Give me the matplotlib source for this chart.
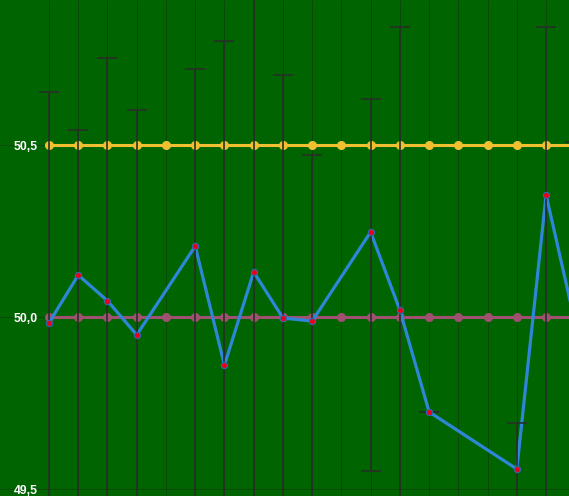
import matplotlib
matplotlib.use("Agg")
import matplotlib.pyplot as plt
import numpy as np

# series
idx = list(range(19))
upper_ref = [50.5] * 19
lower_ref = [50.0] * 19

blue_x = [0, 1, 2, 3, 5, 6, 7, 8, 9, 11, 12, 13, 16, 17, 18]
blue_y = [49.983, 50.122, 50.047, 49.948, 50.206, 49.860, 50.131, 49.997,
          49.988, 50.247, 50.020, 49.724, 49.558, 50.355, 49.980]

err_x = [0, 1, 2, 3, 5, 6, 7, 8, 9, 11, 12, 13, 16, 17, 18]
err_lo = [49.30, 49.30, 49.30, 49.30, 49.30, 49.30, 49.30, 49.30, 49.30,
          49.552, 49.30, 49.724, 49.30, 49.30, 49.30]
err_hi = [50.654, 50.544, 50.753, 50.602, 50.721, 50.802, 51.00, 50.703,
          50.471, 50.634, 50.843, 49.724, 49.692, 50.843, 50.509]

yticks = [49.5, 50.0, 50.5]
ytick_labels = ["49,5", "50,0", "50,5"]

dpi = 100
fig = plt.figure(figsize=(5.69, 4.96), dpi=dpi)
fig.patch.set_facecolor("#006400")
ax = fig.add_axes([0, 0, 1, 1])
ax.set_facecolor("#006400")

ax.set_xticks(idx)
ax.grid(True, color="#0a4a0a", lw=0.7)
ax.set_axisbelow(True)

ax.plot(range(len(upper_ref)), upper_ref, color="#f0c030", lw=2.2,
        marker="o", ms=5.5, zorder=2)
ax.plot(range(len(lower_ref)), lower_ref, color="#a05070", lw=2.2,
        marker="o", ms=5.5, zorder=2)

bx = np.array(err_x)
mid = np.array([blue_y[blue_x.index(i)] for i in err_x])
yerr = [mid - np.array(err_lo), np.array(err_hi) - mid]
ax.errorbar(bx, mid, yerr=yerr, fmt="none", ecolor="#263026", elinewidth=1.2,
            capsize=7, capthick=1.2, zorder=4)

ax.plot(blue_x, blue_y, color="#2e86d8", lw=2.3, zorder=3)
ax.plot(blue_x, blue_y, ls="none", marker="o", ms=4.5, mfc="#e8001c",
        mec="#2e6ab0", mew=0.8, zorder=5)

ax.set_xlim(-49 / 29.24, (569 - 49) / 29.24)
ax.set_ylim(50.5 - (496 - 145) / 344, 50.5 + 145 / 344)

ax.set_yticks(yticks)
ax.set_yticklabels(ytick_labels)
ax.tick_params(axis="y", length=0, pad=-38 * 72 / dpi, labelcolor="white",
               labelsize=8.8)
ax.tick_params(axis="x", length=0, labelbottom=False)
for lab in ax.get_yticklabels():
    lab.set_fontfamily("Liberation Sans")
    lab.set_fontweight("bold")
for s in ax.spines.values():
    s.set_visible(False)

fig.savefig("out.png", dpi=dpi, facecolor=fig.get_facecolor())
